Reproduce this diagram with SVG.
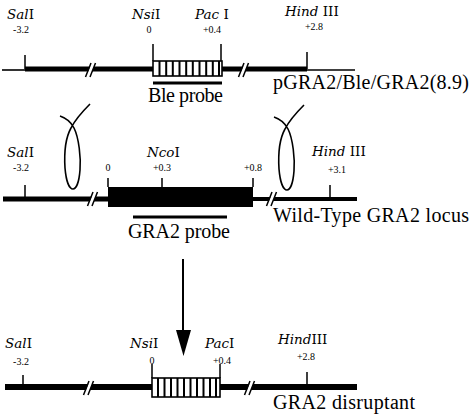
<svg xmlns="http://www.w3.org/2000/svg" xmlns:xlink="http://www.w3.org/1999/xlink" width="474" height="416" viewBox="0 0 474 416">
<style>
text{font-family:"Liberation Serif",serif;fill:#000}
.enz{font-family:"DejaVu Serif","Liberation Serif",serif;font-size:13.5px}
.num{font-size:10px;text-anchor:middle}
.lbl{font-size:20px}
.it{font-style:italic}
.thick{stroke:#000;stroke-width:5;fill:none}
.thin{stroke:#000;stroke-width:1.6;fill:none}
.tick{stroke:#000;stroke-width:1.5;fill:none}
.probe{stroke:#000;stroke-width:3;fill:none}
.hbox{fill:#fff;stroke:#000;stroke-width:1.6}
.bars{stroke:#000;stroke-width:2;fill:none}
.loop{stroke:#000;stroke-width:1.6;fill:none}
</style>
<defs>
<g id="brk">
<polygon points="-5,7 0.5,-7 4.5,-7 -1,7" fill="#fff"/>
<path d="M-5.5,7 L0,-7 M-1,7 L4.5,-7" stroke="#000" stroke-width="1.5" fill="none"/>
</g>
</defs>
<rect width="474" height="416" fill="#fff"/>

<g id="plasmid">
<path class="thin" d="M2,70 H25"/>
<path class="thick" d="M25,69 H153 M222,69 H307"/>
<path class="thin" d="M307,70 H355"/>
<path class="tick" d="M25,55 V69 M153,44 V61 M221,44 V61 M307,52 V69"/>
<rect class="hbox" x="153" y="61" width="69" height="15"/>
<path class="bars" d="M159.5,61v15 M166.2,61v15 M172.8,61v15 M179.5,61v15 M186.2,61v15 M192.8,61v15 M199.5,61v15 M206.2,61v15 M212.8,61v15 M219,61v15"/>
<use xlink:href="#brk" x="91" y="70"/>
<use xlink:href="#brk" x="244" y="70"/>
<text class="enz" x="7" y="19"><tspan class="it">Sal</tspan>I</text>
<text class="num" x="21" y="33">-3.2</text>
<text class="enz" x="132" y="19"><tspan class="it">Nsi</tspan>I</text>
<text class="num" x="149" y="33">0</text>
<text class="enz" x="195" y="19"><tspan class="it">Pac</tspan> I</text>
<text class="num" x="212" y="33">+0.4</text>
<text class="enz" x="285" y="16"><tspan class="it">Hind</tspan> III</text>
<text class="num" x="314" y="30">+2.8</text>
<text class="lbl" x="273" y="89" textLength="196">pGRA2/Ble/GRA2(8.9)</text>
</g>

<g id="ble-probe">
<path class="probe" d="M153,83 H222"/>
<text class="lbl" x="148" y="102" textLength="75">Ble probe</text>
</g>

<g id="loops">
<path class="loop" d="M60,116 C66,118 71,122 74,128 C79,138 81,158 80,170 C79,183 76,189 73,189 C69,189 66,180 65,168 C64,152 66,137 71,128 C75,120 82,112 90,104"/>
<path class="loop" transform="translate(214,1)" d="M60,116 C66,118 71,122 74,128 C79,138 81,158 80,170 C79,183 76,189 73,189 C69,189 66,180 65,168 C64,152 66,137 71,128 C75,120 82,112 90,104"/>
</g>

<g id="wildtype">
<path class="thick" d="M3,199 H108"/>
<rect x="108" y="187" width="145" height="20" fill="#000"/>
<path class="thick" d="M253,199 H357" style="stroke-width:4"/>
<path class="tick" d="M25,185 V199 M108,178 V187 M162,178 V187 M253,178 V187 M330,185 V199"/>
<use xlink:href="#brk" x="93" y="199"/>
<use xlink:href="#brk" x="272" y="199"/>
<text class="enz" x="7" y="157"><tspan class="it">Sal</tspan>I</text>
<text class="num" x="21" y="171">-3.2</text>
<text class="num" x="108" y="171">0</text>
<text class="enz" x="147" y="157"><tspan class="it">Nco</tspan>I</text>
<text class="num" x="162" y="171">+0.3</text>
<text class="num" x="253" y="171">+0.8</text>
<text class="enz" x="312" y="156"><tspan class="it">Hind</tspan> III</text>
<text class="num" x="337" y="173">+3.1</text>
<text class="lbl" x="273" y="222" textLength="196">Wild-Type GRA2 locus</text>
</g>

<g id="gra2-probe">
<path class="probe" d="M133,217 H227"/>
<text class="lbl" x="128" y="238" textLength="102">GRA2 probe</text>
</g>

<g id="connectors">
<path d="M183,259 V332" stroke="#000" stroke-width="2" fill="none"/>
<polygon points="176,330 191,330 183.5,356" fill="#000"/>
</g>

<g id="disruptant">
<path class="thick" d="M5,387 H152 M220,387 H357" style="stroke-width:6"/>
<path class="tick" d="M23,375 V387 M152,364 V378 M220,364 V378 M307,372 V387"/>
<rect class="hbox" x="152" y="378" width="68" height="19"/>
<path class="bars" d="M158,378v19 M164.5,378v19 M171,378v19 M177.5,378v19 M184,378v19 M190.5,378v19 M197,378v19 M203.5,378v19 M210,378v19 M216,378v19"/>
<use xlink:href="#brk" x="89" y="388"/>
<use xlink:href="#brk" x="250" y="388"/>
<text class="enz" x="5" y="348"><tspan class="it">Sal</tspan>I</text>
<text class="num" x="21" y="365">-3.2</text>
<text class="enz" x="130" y="348"><tspan class="it">Nsi</tspan>I</text>
<text class="num" x="152" y="364">0</text>
<text class="enz" x="205" y="348"><tspan class="it">Pac</tspan>I</text>
<text class="num" x="222" y="364">+0.4</text>
<text class="enz" x="278" y="344"><tspan class="it">Hind</tspan>III</text>
<text class="num" x="306" y="360">+2.8</text>
<text class="lbl" x="273" y="409" textLength="142">GRA2 disruptant</text>
</g>
</svg>
